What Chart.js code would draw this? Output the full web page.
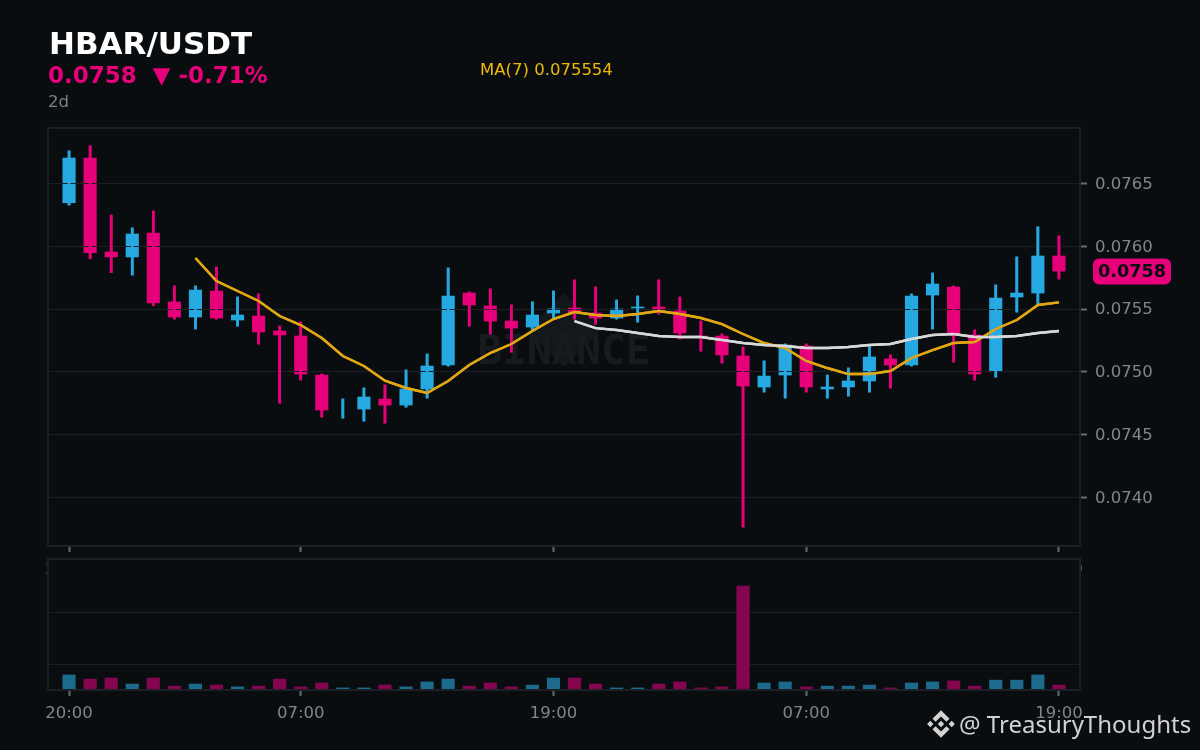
<!DOCTYPE html>
<html>
<head>
<meta charset="utf-8">
<title>HBAR/USDT</title>
<script src="https://cdn.jsdelivr.net/npm/chart.js@4"></script>
<style>
    html, body { margin: 0; padding: 0; background: #0a0d10; overflow: hidden; }
    body { width: 1200px; height: 750px; position: relative; font-family: "DejaVu Sans", sans-serif; }
    canvas { position: absolute; left: 0; }
    #chartPrecio { top: 0; }
    #chartVolumen { top: 550px; }
    .txt { position: absolute; white-space: pre; line-height: 1; }
    #par { left: 49px; top: 28px; font-size: 31px; font-weight: bold; color: #ffffff; }
    #cambio { left: 48px; top: 64px; font-size: 23px; font-weight: bold; color: #e6007a; }
    #intervalo { left: 48px; top: 94px; font-size: 16.5px; color: #7c828a; }
    #ma { left: 480px; top: 62px; font-size: 16.5px; color: #f0b90b; }
    #firma { left: 959px; top: 712px; font-family: "Noto Sans", sans-serif; font-size: 24px; color: #d2d2d2; }
    #logo { position: absolute; left: 927px; top: 710px; width: 28px; height: 28px; }
</style>
</head>
<body>
<canvas id="chartPrecio" width="1200" height="600" style="width:1200px;height:600px"></canvas>
<canvas id="chartVolumen" width="1200" height="200" style="width:1200px;height:200px"></canvas>
<div class="txt" id="par">HBAR/USDT</div>
<div class="txt" id="cambio">0.0758  ▼ -0.71%</div>
<div class="txt" id="intervalo">2d</div>
<div class="txt" id="ma">MA(7) 0.075554</div>
<svg id="logo" viewBox="0 0 126 126" fill="#d2d2d2">
    <path d="M38.73 53.2L63 28.93l24.28 24.28 14.12-14.12L63 0.69 24.61 39.08z"/>
    <path d="M0.69 63l14.12-14.12L28.93 63 14.81 77.12z"/>
    <path d="M38.73 72.8L63 97.07l24.28-24.28 14.13 14.11L63 125.31 24.6 86.91z"/>
    <path d="M97.07 63l14.12-14.12L125.31 63l-14.12 14.12z"/>
    <path d="M77.32 63L63 48.67 48.68 62.99 63 77.32z"/>
</svg>
<div class="txt" id="firma">@ TreasuryThoughts</div>

<script>
const horas = ["20:00","21:00","22:00","23:00","00:00","01:00","02:00","03:00","04:00","05:00","06:00","07:00",
    "08:00","09:00","10:00","11:00","12:00","13:00","14:00","15:00","16:00","17:00","18:00","19:00",
    "20:00","21:00","22:00","23:00","00:00","01:00","02:00","03:00","04:00","05:00","06:00","07:00",
    "08:00","09:00","10:00","11:00","12:00","13:00","14:00","15:00","16:00","17:00","18:00","19:00"];

const aperturas = [0.076347,0.076703,0.075955,0.075915,0.076106,0.075557,0.075437,0.075644,0.075413,0.075445,0.075326,0.075286,
    0.074975,0.074700,0.074704,0.074784,0.074736,0.074864,0.075055,0.075628,0.075525,0.075405,0.075357,0.075469,
    0.075509,0.075469,0.075429,0.075509,0.075517,0.075485,0.075286,0.075286,0.075127,0.074880,0.074975,0.075206,
    0.074864,0.074880,0.074928,0.075103,0.075055,0.075612,0.075676,0.075294,0.075007,0.075596,0.075628,0.075923];
const cierres = [0.076703,0.075949,0.075915,0.076098,0.075549,0.075437,0.075652,0.075429,0.075453,0.075318,0.075294,0.074983,
    0.074697,0.074700,0.074800,0.074736,0.074864,0.075047,0.075604,0.075533,0.075405,0.075349,0.075453,0.075501,
    0.075469,0.075429,0.075501,0.075517,0.075493,0.075310,0.075278,0.075135,0.074888,0.074967,0.075214,0.074880,
    0.074880,0.074928,0.075119,0.075055,0.075604,0.075700,0.075302,0.074983,0.075588,0.075628,0.075923,0.075803];
const maximos = [0.076759,0.076799,0.076249,0.076146,0.076281,0.075684,0.075684,0.075835,0.075596,0.075620,0.075365,0.075397,
    0.074983,0.074784,0.074872,0.074896,0.075015,0.075142,0.075827,0.075636,0.075660,0.075533,0.075557,0.075644,
    0.075732,0.075676,0.075572,0.075604,0.075732,0.075596,0.075405,0.075302,0.075198,0.075087,0.075222,0.075222,
    0.074975,0.075031,0.075206,0.075135,0.075620,0.075787,0.075684,0.075334,0.075692,0.075915,0.076154,0.076082];
const minimos = [0.076329,0.075901,0.075790,0.075772,0.075527,0.075421,0.075342,0.075421,0.075365,0.075222,0.074752,0.074936,
    0.074641,0.074633,0.074609,0.074593,0.074720,0.074792,0.075047,0.075365,0.075302,0.075158,0.075326,0.075421,
    0.075421,0.075381,0.075421,0.075397,0.075461,0.075262,0.075166,0.075071,0.073765,0.074840,0.074792,0.074840,
    0.074792,0.074808,0.074840,0.074872,0.075047,0.075342,0.075079,0.074936,0.074959,0.075477,0.075533,0.075740];

const ma7 = [null,null,null,null,null,null,
    0.075907,0.075724,0.075644,0.075565,0.075445,0.075373,0.075270,0.075127,0.075047,0.074930,0.074872,0.074832,
    0.074928,0.075055,0.075150,0.075222,0.075326,0.075421,0.075477,0.075453,0.075445,0.075461,0.075485,0.075461,
    0.075429,0.075381,0.075302,0.075230,0.075190,0.075087,0.075031,0.074983,0.074983,0.075007,0.075111,0.075174,
    0.075230,0.075238,0.075342,0.075413,0.075533,0.075554];
const ma25 = [null,null,null,null,null,null,null,null,null,null,null,null,
    null,null,null,null,null,null,null,null,null,null,null,null,
    0.075405,0.075349,0.075334,0.075310,0.075286,0.075278,0.075278,0.075254,0.075230,0.075214,0.075206,0.075190,
    0.075190,0.075198,0.075214,0.075222,0.075262,0.075294,0.075302,0.075278,0.075278,0.075286,0.075310,0.075326];

const volumen = [15.8,14.2,14.6,12.3,14.6,11.5,12.3,11.9,11.2,11.5,14.2,11.2,
    12.7,10.8,10.8,11.9,11.2,13.1,14.2,11.5,12.7,11.2,11.9,14.6,
    14.6,12.3,10.8,10.8,12.3,13.1,10.8,11.2,50.0,12.7,13.1,11.2,
    11.5,11.5,11.9,10.8,12.7,13.1,13.5,11.5,13.8,13.8,15.8,11.9];

const ticksPrecio = [0.0740,0.0745,0.0750,0.0755,0.0760,0.0765];
const ticksVolumen = [20,40];
const posicionesHora = [0,11,23,35,47];
const ultimoPrecio = 0.0758;

const FONDO = "#0a0d10";
const ROSA = "#e6007a";
const AZUL = "#26a9e0";
const ROSA_VOL = "#85064f";
const AZUL_VOL = "#1c6a8c";
const GRID = "#1c2024";
const MARCA = "#666b73";
const TEXTO = "#7f858d";

// margen de una vela vacia a cada lado, el eje no usa offset
const relleno = (arr) => [null, ...arr, null];
const etiquetas = relleno(horas).map((h) => h || "");
const colorVela = (i, subida, bajada) => cierres[i] >= aperturas[i] ? subida : bajada;

const coloresVela = relleno(horas.map((h, i) => colorVela(i, AZUL, ROSA)));
const coloresVol = relleno(horas.map((h, i) => colorVela(i, AZUL_VOL, ROSA_VOL)));

function ejeHoras(alto) {
    return {
        offset: false,
        afterBuildTicks: (eje) => {
            eje.ticks = posicionesHora.map((p) => ({ value: p + 1 }));
        },
        afterFit: (eje) => { eje.height = alto; },
        border: { display: false },
        grid: { offset: false, drawOnChartArea: false, tickColor: MARCA, tickLength: 6, tickWidth: 2 },
        ticks: {
            autoSkip: false,
            maxRotation: 0,
            color: TEXTO,
            padding: 8,
            font: { family: "DejaVu Sans", size: 16.5 },
            callback: function (valor) { return this.getLabelForValue(valor); }
        }
    };
}

const marcoPanel = {
    id: "marcoPanel",
    beforeDraw(chart) {
        const { ctx, chartArea: a } = chart;
        ctx.save();
        ctx.fillStyle = FONDO;
        ctx.fillRect(a.left, a.top, a.width, a.height);
        ctx.restore();
    },
    afterDraw(chart) {
        const { ctx, chartArea: a } = chart;
        ctx.save();
        ctx.strokeStyle = GRID;
        ctx.lineWidth = 2;
        ctx.strokeRect(a.left, a.top, a.width, a.height);
        ctx.restore();
    }
};

const marcaAgua = {
    id: "marcaAgua",
    beforeDatasetsDraw(chart) {
        const { ctx, chartArea: a } = chart;
        const cx = (a.left + a.right) / 2;
        const cy = (a.top + a.bottom) / 2;
        ctx.save();
        ctx.fillStyle = "#14181b";
        ctx.beginPath();
        ctx.moveTo(cx, cy - 44);
        ctx.lineTo(cx + 37, cy - 7);
        ctx.lineTo(cx, cy + 30);
        ctx.lineTo(cx - 37, cy - 7);
        ctx.closePath();
        ctx.fill();
        ctx.fillStyle = "#171b1f";
        ctx.font = "bold 41px 'DejaVu Sans Mono'";
        ctx.textAlign = "center";
        ctx.textBaseline = "middle";
        ctx.fillText("BINANCE", cx, cy + 16);
        ctx.restore();
    }
};

// la rejilla va encima de los cuerpos; mechas y medias se repintan encima de la rejilla
const sobreRejilla = {
    id: "sobreRejilla",
    afterDraw(chart) {
        const { ctx, chartArea: a } = chart;
        ctx.save();
        ctx.beginPath();
        ctx.rect(a.left, a.top, a.width, a.height);
        ctx.clip();
        chart.getDatasetMeta(3).data.forEach((barra, i) => {
            if (i > 0 && i <= horas.length) barra.draw(ctx);
        });
        chart.getDatasetMeta(0).dataset.draw(ctx);
        chart.getDatasetMeta(1).dataset.draw(ctx);
        ctx.restore();
    }
};

const etiquetaPrecio = {
    id: "etiquetaPrecio",
    afterDraw(chart) {
        const { ctx } = chart;
        const y = chart.scales.y.getPixelForValue(ultimoPrecio);
        ctx.save();
        ctx.fillStyle = ROSA;
        ctx.beginPath();
        ctx.roundRect(1093, y - 13, 78, 26, 6);
        ctx.fill();
        ctx.fillStyle = "#0a0d10";
        ctx.font = "bold 17.6px 'DejaVu Sans'";
        ctx.textAlign = "center";
        ctx.textBaseline = "middle";
        ctx.fillText(ultimoPrecio.toFixed(4), 1132, y + 1);
        ctx.restore();
    }
};

new Chart(document.getElementById("chartPrecio"), {
    type: "bar",
    data: {
        labels: etiquetas,
        datasets: [
            {
                label: "MA(7)",
                type: "line",
                data: relleno(ma7),
                borderColor: "#e0a614",
                borderWidth: 2.4,
                pointRadius: 0,
                spanGaps: false,
                order: 1
            },
            {
                label: "MA(25)",
                type: "line",
                data: relleno(ma25),
                borderColor: "#d8d8d8",
                borderWidth: 2.4,
                pointRadius: 0,
                spanGaps: false,
                order: 0
            },
            {
                label: "cuerpo",
                data: relleno(horas.map((h, i) => aperturas[i] === cierres[i] ? null : [aperturas[i], cierres[i]])),
                backgroundColor: coloresVela,
                barThickness: 12.5,
                grouped: false,
                order: 2
            },
            {
                label: "mecha",
                data: relleno(horas.map((h, i) => [minimos[i], maximos[i]])),
                backgroundColor: coloresVela,
                barThickness: 2,
                grouped: false,
                order: 3
            }
        ]
    },
    options: {
        responsive: false,
        animation: false,
        devicePixelRatio: 1,
        layout: { autoPadding: false, padding: { left: 48, top: 128 } },
        plugins: { legend: { display: false }, tooltip: { enabled: false } },
        scales: {
            x: ejeHoras(54),
            y: {
                position: "right",
                min: 0.073614,
                max: 0.076942,
                afterBuildTicks: (eje) => {
                    eje.ticks = ticksPrecio.map((v) => ({ value: v }));
                },
                afterFit: (eje) => { eje.width = 120; },
                border: { display: false },
                grid: { color: GRID, z: 1, tickColor: MARCA, tickLength: 7, tickWidth: 2 },
                ticks: {
                    color: TEXTO,
                    padding: 8,
                    labelOffset: 1,
                    font: { family: "DejaVu Sans", size: 16.5 },
                    callback: (v) => v.toFixed(4)
                }
            }
        }
    },
    plugins: [marcoPanel, marcaAgua, sobreRejilla, etiquetaPrecio]
});

new Chart(document.getElementById("chartVolumen"), {
    type: "bar",
    data: {
        labels: etiquetas,
        datasets: [
            {
                label: "volumen",
                data: relleno(volumen),
                backgroundColor: coloresVol,
                barThickness: 12.5
            }
        ]
    },
    options: {
        responsive: false,
        animation: false,
        devicePixelRatio: 1,
        layout: { autoPadding: false, padding: { left: 48, right: 120, top: 9 } },
        plugins: { legend: { display: false }, tooltip: { enabled: false } },
        scales: {
            x: ejeHoras(60),
            y: {
                min: 10,
                max: 60.4,
                afterBuildTicks: (eje) => {
                    eje.ticks = ticksVolumen.map((v) => ({ value: v }));
                },
                afterFit: (eje) => { eje.width = 0; },
                border: { display: false },
                grid: { color: GRID, drawTicks: false, lineWidth: 1 },
                ticks: { display: false }
            }
        }
    },
    plugins: [marcoPanel]
});
</script>
</body>
</html>
